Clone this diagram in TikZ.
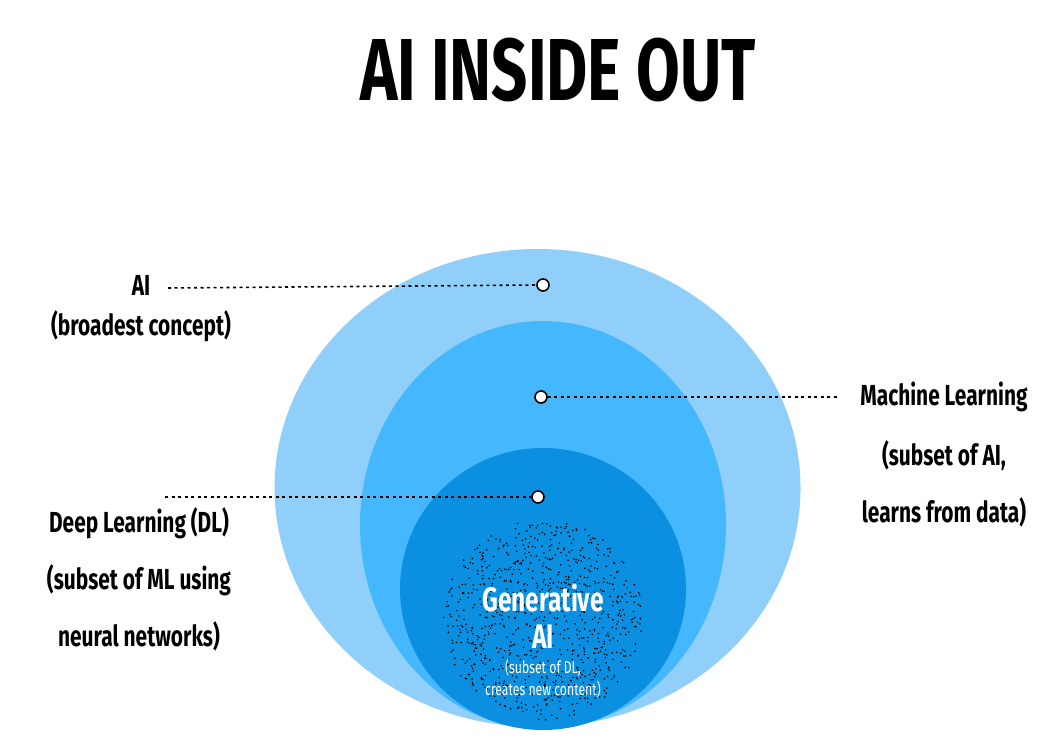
\documentclass[tikz,border=0pt]{standalone}
\usepackage{fontspec}
\setmainfont{Fira Sans}[FakeStretch=0.72]
\definecolor{cA}{HTML}{90CFFA}
\definecolor{cB}{HTML}{45B8FD}
\definecolor{cC}{HTML}{0B90E1}
\tikzset{lbl/.style={font=\fontsize{29}{32}\selectfont\bfseries,text=black},
 mk/.style={circle,draw=black,fill=white,line width=1.6pt,minimum size=12pt,inner sep=0pt},
 dl/.style={densely dashed,line width=1.6pt,dash pattern=on 3pt off 3.5pt}}
\begin{document}
\begin{tikzpicture}[x=1pt,y=-1pt]
\useasboundingbox[fill=white] (0,0) rectangle (1056,744);
\node[font=\fontsize{88}{90}\selectfont\bfseries] (t) at (558,70) {AI INSIDE OUT};
\fill[cA] (537.5,488) ellipse [x radius=263,y radius=239];
\fill[cB] (543,525) ellipse [x radius=183,y radius=204];
\fill[cC] (543,589) ellipse [x radius=143,y radius=141];
\pgfmathsetseed{7}
\foreach \i in {1,...,900}{
 \pgfmathsetmacro\r{100*sqrt(rnd)}
 \pgfmathsetmacro\a{360*rnd}
 \fill[black] ({543+\r*cos(\a)},{620+\r*sin(\a)}) circle (0.9);}
\node[mk] (m1) at (543,285) {};
\node[mk] (m2) at (541,397) {};
\node[mk] (m3) at (538,497) {};
\coordinate (e1) at (168,288);
\coordinate (e2) at (838,397);
\coordinate (e3) at (165,497);
\draw[dl] (e1) -- (m1.west);
\draw[dl] (m2.east) -- (e2);
\draw[dl] (e3) -- (m3.west);
\node[lbl] (a1) at (141,285) {AI};
\node[lbl] (a2) at (141,326) {(broadest concept)};
\node[lbl] (b1) at (944,397) {Machine Learning};
\node[lbl] (b2) at (944,456) {(subset of AI,};
\node[lbl] (b3) at (944,512) {learns from data)};
\node[lbl] (c1) at (139,523) {Deep Learning (DL)};
\node[lbl] (c2) at (139,580) {(subset of ML using};
\node[lbl] (c3) at (139,636) {neural networks)};
\node[lbl,text=white,font=\fontsize{34}{36}\selectfont\bfseries] (g1) at (543,598) {Generative};
\node[lbl,text=white,font=\fontsize{34}{36}\selectfont\bfseries] (g2) at (543,637) {AI};
\node[text=white,font=\fontsize{17}{19}\selectfont] (g3) at (543,668) {(subset of DL,};
\node[text=white,font=\fontsize{17}{19}\selectfont] (g4) at (543,690) {creates new content)};
\end{tikzpicture}
\end{document}
